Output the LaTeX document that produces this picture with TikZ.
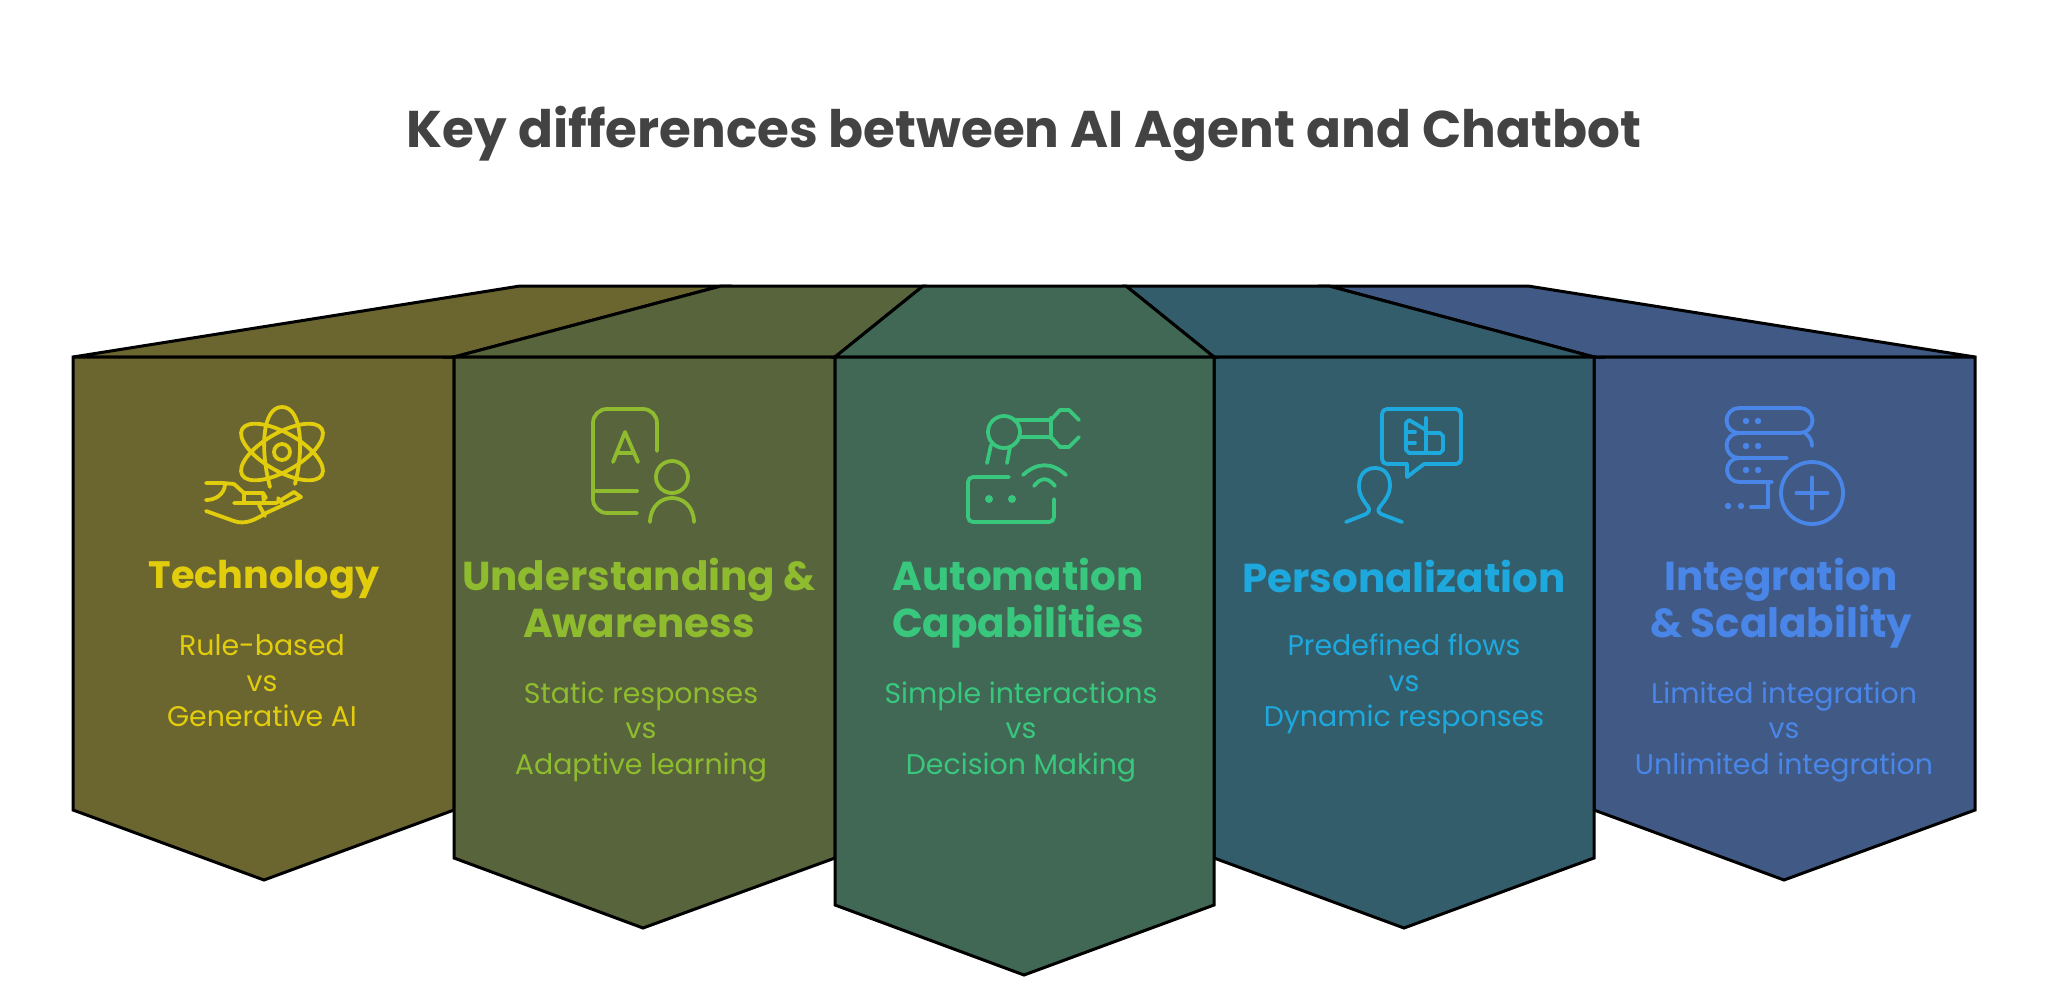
\documentclass[tikz,border=0pt]{standalone}
\usepackage{fontspec}
\setmainfont{Poppins}
\definecolor{faceA}{HTML}{6B6630}
\definecolor{faceB}{HTML}{58643C}
\definecolor{faceC}{HTML}{406855}
\definecolor{faceD}{HTML}{345D6B}
\definecolor{faceE}{HTML}{405A85}
\definecolor{inkA}{HTML}{E2CD0C}
\definecolor{inkB}{HTML}{8FBC2E}
\definecolor{inkC}{HTML}{38C77D}
\definecolor{inkD}{HTML}{1EA9DE}
\definecolor{inkE}{HTML}{4A86E8}
\definecolor{titleink}{HTML}{434343}
\tikzset{
  panel/.style={draw=black,line width=1.5pt,line join=miter},
  icon/.style={line width=1.9pt,line cap=round,line join=round},
  headtext/.style={font=\fontsize{20.2}{23.5}\selectfont\bfseries,align=center,inner sep=0pt,anchor=center},
  bodytext/.style={font=\fontsize{14.2}{17.8}\selectfont,align=center,inner sep=0pt,anchor=center},
}
\begin{document}
\begin{tikzpicture}[x=0.5pt,y=-0.5pt]
\useasboundingbox (0,0) rectangle (2048,1001);
\fill[white] (0,0) rectangle (2048,1001);
\node[font=\fontsize{25.8}{30}\selectfont\bfseries,text=titleink,inner sep=0pt] (title) at (1024,134) {Key differences between AI Agent and Chatbot};
% panels
\draw[panel,fill=faceA] (73,357) -- (520,286) -- (721,286) -- (454,357) -- cycle;
\draw[panel,fill=faceA] (73,357) -- (454,357) -- (454,810) -- (264,880) -- (73,810) -- cycle;
\draw[panel,fill=faceE] (1975,357) -- (1528,286) -- (1329,286) -- (1594,357) -- cycle;
\draw[panel,fill=faceE] (1594,357) -- (1975,357) -- (1975,810) -- (1784,880) -- (1594,810) -- cycle;
\draw[panel,fill=faceB] (454,357) -- (721,286) -- (923,286) -- (835,357) -- cycle;
\draw[panel,fill=faceB] (454,357) -- (835,357) -- (835,858) -- (643,928) -- (454,858) -- cycle;
\draw[panel,fill=faceD] (1594,357) -- (1329,286) -- (1126,286) -- (1214,357) -- cycle;
\draw[panel,fill=faceD] (1214,357) -- (1594,357) -- (1594,858) -- (1404,928) -- (1214,858) -- cycle;
\draw[panel,fill=faceC] (835,357) -- (923,286) -- (1126,286) -- (1214,357) -- cycle;
\draw[panel,fill=faceC] (835,357) -- (1214,357) -- (1214,905) -- (1024,975) -- (835,905) -- cycle;
% icon 1
\begin{scope}[icon,draw=inkA]
\draw (282,452) circle [radius=8];
\draw[rotate around={60:(282,452)}] (282,452) ellipse [x radius=19,y radius=46];
\draw[rotate around={-60:(282,452)}] (282,452) ellipse [x radius=19,y radius=46];
\draw (270,487) .. controls (260,450) and (262,407) .. (282,407) .. controls (302,407) and (304,450) .. (295,484);
\draw (206,483) -- (223,483) -- (234,484) -- (244,493) -- (263,493) -- (266,498);
\draw (225,485) .. controls (224,494) and (216,500) .. (206,500);
\draw (234,503) -- (276,503) -- (294,492) -- (301,497) -- (266,513) .. controls (255,520) and (245,525) .. (234,521) -- (206,511);
\draw (244,493) -- (244,503);
\draw (263,493) -- (264,503);
\draw (259,505) -- (265,516);
\draw (278,498) -- (283,505);
\end{scope}
% icon 2
\begin{scope}[icon,draw=inkB]
\draw[rounded corners=7pt] (657,451) -- (657,409) -- (593,409) -- (593,513) -- (637,513);
\draw (593,491) -- (637,491);
\draw (613,462) -- (625,432) -- (638,462);
\draw (617,453) -- (634,453);
\draw (672,477) circle [radius=16];
\draw (650,522) .. controls (651,490) and (693,490) .. (694,522);
\end{scope}
% icon 3
\begin{scope}[icon,draw=inkC]
\draw (1004,432) circle [radius=16];
\draw (1014,420) -- (1051,420);
\draw (1019,437) -- (1051,437);
\draw (1051,418) -- (1051,438);
\draw (1051,420) -- (1060,410) -- (1069,410) -- (1079,420);
\draw (1051,437) -- (1060,447) -- (1069,447) -- (1079,437);
\draw (991,445) -- (987,463);
\draw (1010,447) -- (1007,463);
\draw[rounded corners=2.5pt] (1009,477) -- (968,477) -- (968,522) -- (1054,522) -- (1054,499);
\fill[inkC] (989,499) circle [radius=4];
\fill[inkC] (1012,499) circle [radius=4];
\draw (1023,475) .. controls (1037,462) and (1052,462) .. (1066,475);
\draw (1034,486) .. controls (1041,477) and (1048,477) .. (1055,486);
\end{scope}
% icon 4
\begin{scope}[icon,draw=inkD]
\draw[rounded corners=2.5pt] (1407,464) -- (1382,464) -- (1382,409) -- (1461,409) -- (1461,464) -- (1424,464);
\draw (1407,464) -- (1407,477) -- (1424,464);
\draw (1346,522) -- (1366,514) .. controls (1372,510) and (1368,507) .. (1366,504) .. controls (1361,497) and (1359,493) .. (1359,486) .. controls (1359,473) and (1367,468) .. (1375,468) .. controls (1383,468) and (1390,473) .. (1390,486) .. controls (1390,493) and (1386,499) .. (1382,504) .. controls (1379,508) and (1376,511) .. (1381,514) -- (1402,522);
\draw (1426,418) -- (1426,452);
\draw (1426,430) -- (1409,420) -- (1406,423) -- (1406,450) -- (1409,453) -- (1440,453) -- (1443,450) -- (1443,436) -- (1440,433) -- (1426,433);
\draw (1406,432) -- (1415,432);
\draw (1406,443) -- (1415,443);
\end{scope}
% icon 5
\begin{scope}[icon,draw=inkE]
\draw (1739,408) -- (1800,408) arc [start angle=-90,end angle=90,radius=12.5] -- (1739,433) arc [start angle=90,end angle=270,radius=12.5];
\draw (1739,433) arc [start angle=270,end angle=90,radius=12.5] -- (1787,458);
\draw (1805,433) .. controls (1809,436) and (1812,440) .. (1812,446);
\draw (1739,458) arc [start angle=270,end angle=90,radius=12] -- (1772,482);
\draw (1768,482) -- (1768,507) -- (1751,507);
\fill[inkE] (1728,506) circle [radius=3.2];
\fill[inkE] (1741,506) circle [radius=3.2];
\foreach \yy in {421,446,470} {
  \fill[inkE] (1746,\yy) circle [radius=3.2];
  \fill[inkE] (1758,\yy) circle [radius=3.2];
}
\draw (1812,493) circle [radius=31];
\draw (1796.5,493) -- (1827.5,493);
\draw (1812,477.5) -- (1812,508.5);
\end{scope}
% text
\node[headtext,text=inkA,font=\fontsize{19.1}{23.5}\selectfont\bfseries] (h1) at (264,580) {Technology};
\node[bodytext,text=inkA] (b1) at (262,681) {Rule-based\\vs\\Generative AI};
\node[headtext,text=inkB] (h2) at (639,598) {Understanding \&\\Awareness};
\node[bodytext,text=inkB] (b2) at (641,732) {Static responses\\vs\\Adaptive learning};
\node[headtext,text=inkC] (h3) at (1018,603) {Automation\\Capabilities};
\node[bodytext,text=inkC] (b3) at (1021,732) {Simple interactions\\vs\\Decision Making};
\node[headtext,text=inkD] (h4) at (1404,576) {Personalization};
\node[bodytext,text=inkD] (b4) at (1404,684) {Predefined flows\\vs\\Dynamic responses};
\node[headtext,text=inkE] (h5) at (1781,603) {Integration\\\& Scalability};
\node[bodytext,text=inkE] (b5) at (1784,732) {Limited integration\\vs\\Unlimited integration};
\end{tikzpicture}
\end{document}
